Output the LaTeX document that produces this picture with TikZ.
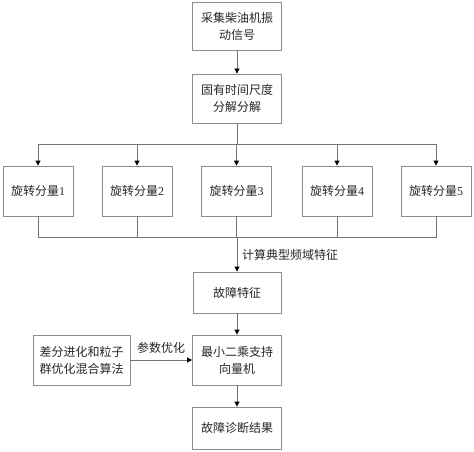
\documentclass[tikz,border=0pt]{standalone}
\usepackage{fontspec}
\setmainfont{Liberation Serif}
\newfontfamily\cjk{Noto Sans CJK SC}
\usetikzlibrary{arrows.meta}
\begin{document}
\begin{tikzpicture}[x=1pt,y=-1pt,
  box/.style={draw=black!45,line width=0.8pt,minimum width=#1,align=center,inner sep=0pt,
    font=\fontsize{12pt}{17pt}\selectfont\cjk,text=black!85},
  box/.default=89pt,
  conn/.style={draw=black!55,line width=0.8pt},
  arr/.style={conn,-{Triangle[width=5pt,length=5pt,color=black]}},
  lbl/.style={font=\fontsize{12pt}{14pt}\selectfont\cjk,text=black!85,inner sep=0pt}]
\useasboundingbox (0,0) rectangle (474,452);
\node[box,minimum height=48pt] (a) at (237,26) {采集柴油机振\\动信号};
\node[box,minimum height=49pt] (b) at (237,98.5) {固有时间尺度\\分解分解};
\foreach \i/\x in {1/38,2/137,3/236.5,4/337,5/436}{
  \node[box=70pt,minimum height=50pt] (c\i) at (\x,191) {旋转分量{\rmfamily\i}};
}
\coordinate (split) at (237,144);
\coordinate (merge) at (237,237);
\node[box=88pt,minimum height=41pt] (f) at (237,292.5) {故障特征};
\node[box,minimum height=50pt] (s) at (237,360) {最小二乘支持\\向量机};
\node[box=89pt,minimum height=42pt] (r) at (237,428) {故障诊断结果};
\node[box=97pt,minimum height=50pt] (d) at (81.5,360) {差分进化和粒子\\群优化混合算法};
\draw[arr] (a) -- (b);
\draw[conn] (b.south) -- (split);
\foreach \i in {1,2,3,4,5}{
  \draw[arr] (split) -| (c\i.north);
}
\foreach \i in {1,2,3,4,5}{
  \draw[conn] (c\i.south) |- (merge);
}
\draw[arr] (merge) -- (f.north);
\node[lbl,anchor=west] (lf) at (242,255) {计算典型频域特征};
\draw[arr] (f) -- (s);
\draw[arr] (s) -- (r);
\draw[arr] (d) -- (s);
\node[lbl,anchor=south] (lp) at (161,354) {参数优化};
\end{tikzpicture}
\end{document}
